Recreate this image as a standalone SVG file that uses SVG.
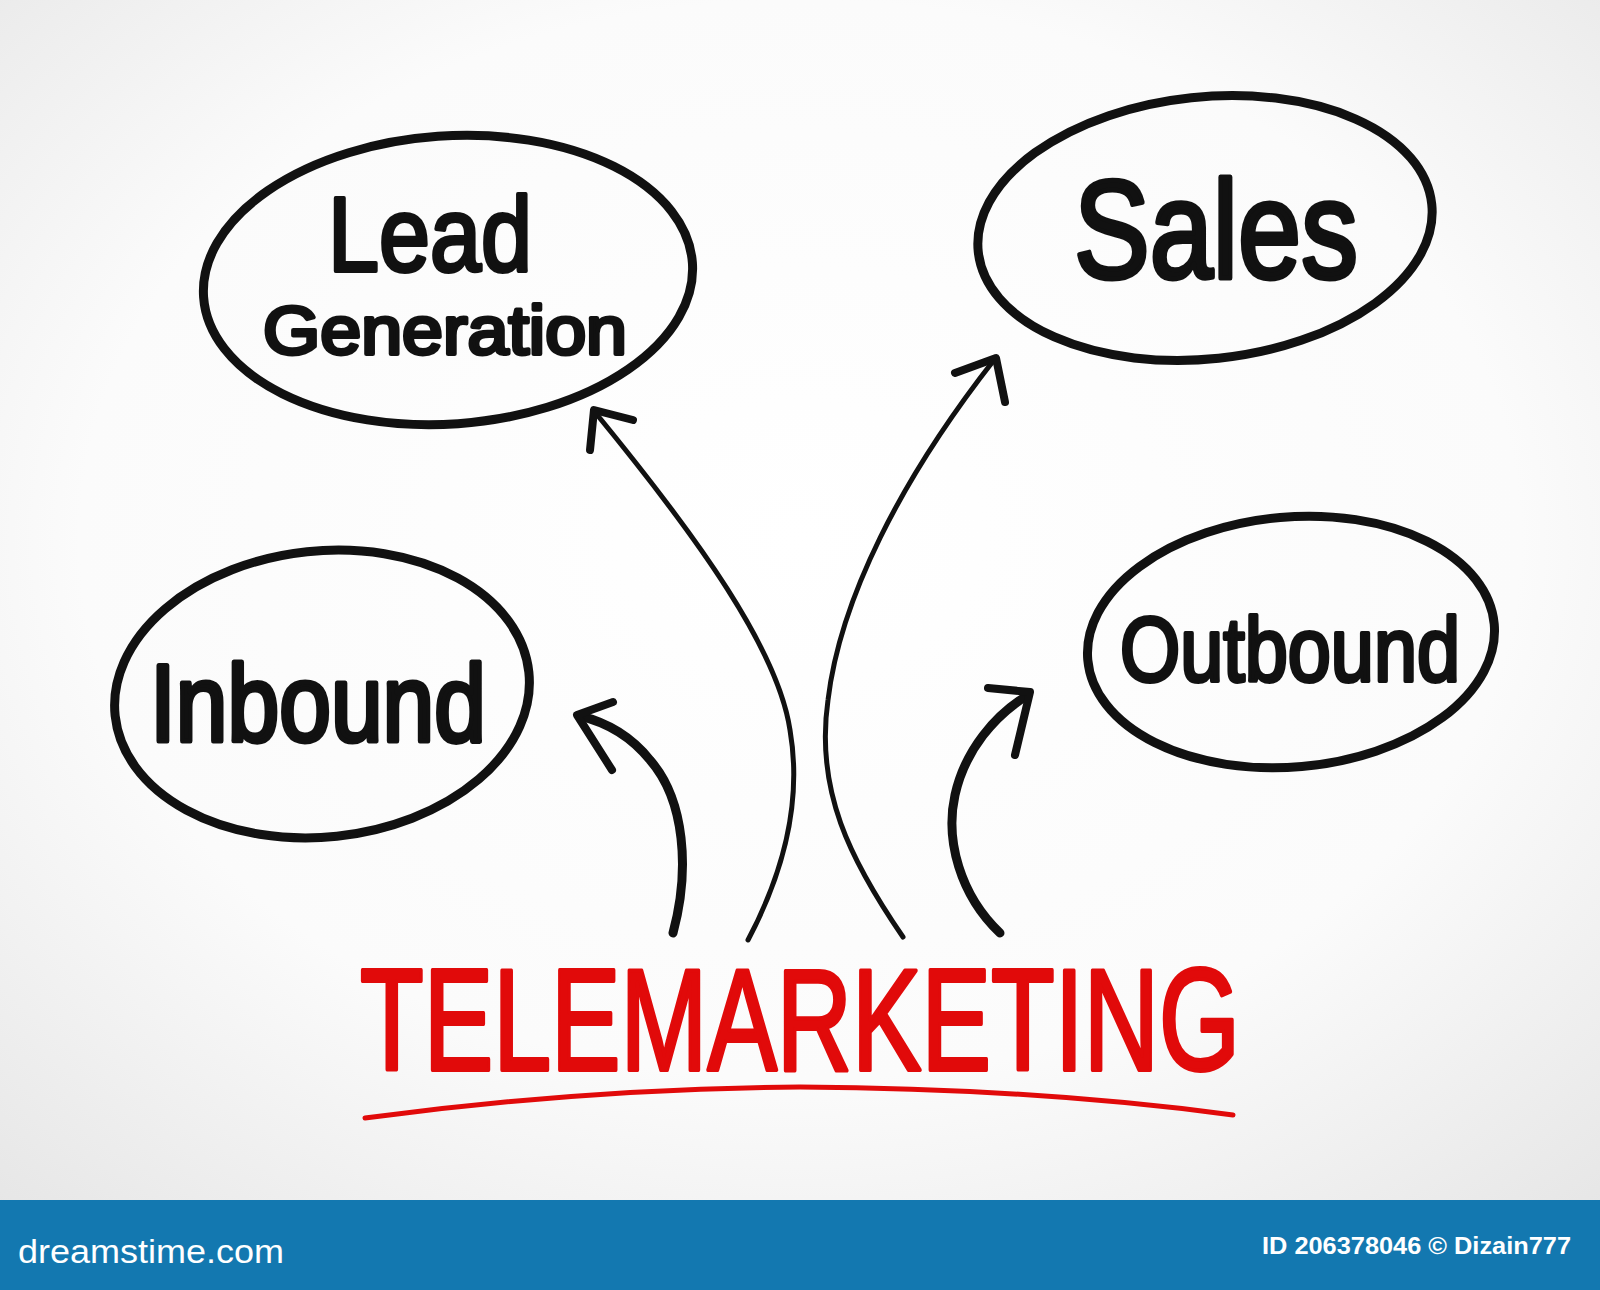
<svg xmlns="http://www.w3.org/2000/svg" width="1600" height="1290" viewBox="0 0 1600 1290">
<style>
.node ellipse{fill:none;stroke:#111;stroke-width:9}
.lbl{font-family:"Liberation Sans","DejaVu Sans",sans-serif;font-weight:400;fill:#111;text-anchor:middle;stroke:#111;stroke-width:4;stroke-linejoin:round;stroke-linecap:round}
.conn{fill:none;stroke:#111;stroke-linecap:round;stroke-linejoin:round}
.line{stroke-width:5}
.thick{stroke-width:9}
.head{stroke-width:8}
.title{font-family:"Liberation Sans","DejaVu Sans",sans-serif;font-weight:400;fill:#e10a0a;stroke:#e10a0a;stroke-width:4;stroke-linejoin:round;stroke-linecap:round;text-anchor:middle}
.foot{font-family:"Liberation Sans","DejaVu Sans",sans-serif;fill:#fff}
</style>
<defs>
<radialGradient id="bg" cx="0.5" cy="0.45" r="0.75">
<stop offset="0" stop-color="#ffffff"/>
<stop offset="0.6" stop-color="#fbfbfb"/>
<stop offset="1" stop-color="#e6e6e6"/>
</radialGradient>
</defs>
<rect x="0" y="0" width="1600" height="1200" fill="url(#bg)"/>

<g id="node-lead-generation" class="node">
<ellipse cx="448" cy="280" rx="245" ry="144" transform="rotate(-4 448 280)"/>
<text class="lbl" x="430" y="271" font-size="106" textLength="204" lengthAdjust="spacingAndGlyphs">Lead</text>
<text class="lbl" x="445" y="354" font-size="68" textLength="364" lengthAdjust="spacingAndGlyphs">Generation</text>
</g>

<g id="node-sales" class="node">
<ellipse cx="1205" cy="228" rx="228" ry="131" transform="rotate(-6 1205 228)"/>
<text class="lbl" x="1216" y="278" font-size="140" textLength="284" lengthAdjust="spacingAndGlyphs" style="stroke-width:5">Sales</text>
</g>

<g id="node-inbound" class="node">
<ellipse cx="322" cy="694" rx="208" ry="143" transform="rotate(-6 322 694)"/>
<text class="lbl" x="318" y="741" font-size="110" textLength="336" lengthAdjust="spacingAndGlyphs" style="stroke-width:5">Inbound</text>
</g>

<g id="node-outbound" class="node">
<ellipse cx="1291" cy="642" rx="204" ry="125" transform="rotate(-5 1291 642)"/>
<text class="lbl" x="1290" y="681" font-size="90" textLength="340" lengthAdjust="spacingAndGlyphs">Outbound</text>
</g>

<g id="node-telemarketing">
<text class="title" x="800" y="1070" font-size="144" textLength="880" lengthAdjust="spacingAndGlyphs">TELEMARKETING</text>
<path d="M365,1118 C500,1100 650,1088 800,1087 C950,1088 1100,1097 1233,1115" fill="none" stroke="#e10a0a" stroke-width="5" stroke-linecap="round"/>
</g>

<g id="connectors">
<path class="conn line" d="M748,940 C785,870 802,800 790,730 C778,650 700,540 594,411"/>
<path class="conn head" d="M633,420 L594,410 L590,450"/>
<path class="conn line" d="M903,937 C850,860 815,790 828,700 C840,600 900,480 994,360"/>
<path class="conn head" d="M955,373 L996,358 L1005,402"/>
<path class="conn thick" d="M673,933 C690,870 685,800 650,760 C630,735 605,722 580,716"/>
<path class="conn head" d="M613,702 L577,715 L612,770"/>
<path class="conn thick" d="M1000,933 C960,895 945,840 955,795 C965,750 995,715 1028,695"/>
<path class="conn head" d="M988,688 L1030,692 L1015,755"/>
</g>

<g id="footer">
<rect x="0" y="1200" width="1600" height="90" fill="#1378b0"/>
<text class="foot" x="18" y="1263" font-size="34" textLength="266" lengthAdjust="spacingAndGlyphs">dreamstime.com</text>
<text class="foot" x="1262" y="1254" font-size="23" font-weight="700" textLength="309" lengthAdjust="spacingAndGlyphs">ID 206378046 © Dizain777</text>
</g>
</svg>
